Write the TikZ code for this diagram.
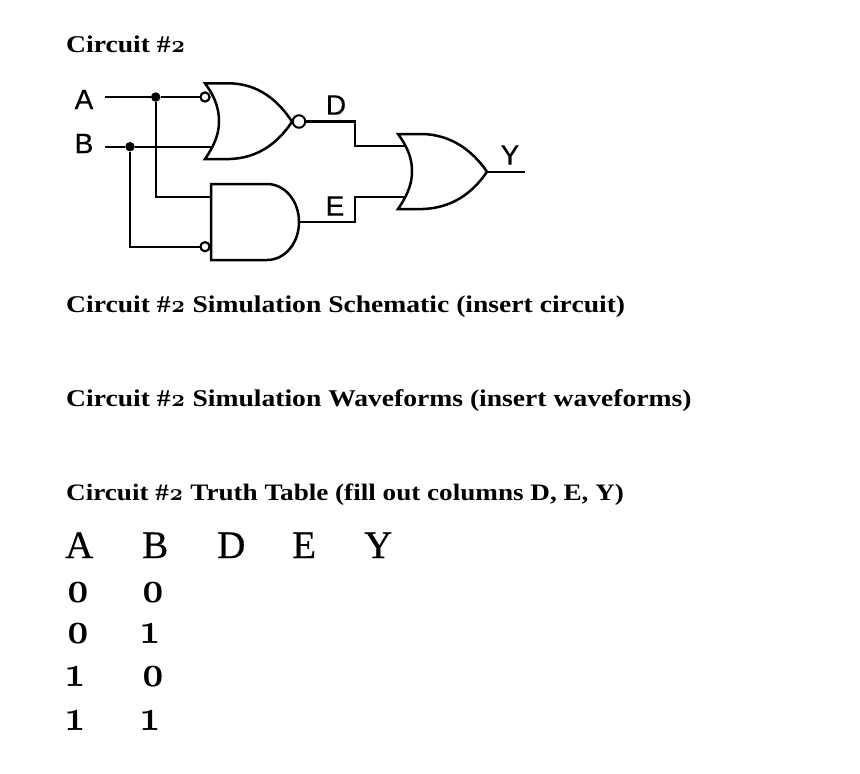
\documentclass[tikz,border=0pt]{standalone}
\usepackage{fontspec}
\setmainfont{Liberation Serif}
\newfontfamily\headfont[FakeStretch=1.15]{Liberation Serif}
\newfontfamily\colfont[FakeBold=0.5]{Liberation Serif}
\newfontfamily\digitfont[Numbers=OldStyle]{Latin Modern Roman}
\newfontfamily\tabledigitfont[Numbers=OldStyle,FakeStretch=0.84]{Latin Modern Roman}
\newfontfamily\gatefont[FakeBold=0.4]{Liberation Sans}
\newcommand{\ctwo}{{\digitfont\bfseries 2}}
\tikzset{
  x=1pt,y=-1pt,
  wire/.style={line width=2.2pt,black,line cap=butt,line join=miter},
  thin wire/.style={line width=1.8pt,black},
  gate outline/.style={line width=2.5pt,black,fill=white,line join=miter},
  junction/.style={circle,fill=black,inner sep=0pt,minimum size=9.5pt},
  bubble/.style={circle,draw=black,fill=white,line width=2pt,inner sep=0pt,minimum size=9pt},
  big bubble/.style={bubble,minimum size=12.5pt},
  gatelabel/.style={font=\gatefont\fontsize{28}{28}\selectfont,inner sep=0pt,anchor=center},
  heading/.style={font=\headfont\bfseries\fontsize{24}{26}\selectfont,inner sep=0pt,anchor=base west},
  heading narrow/.style={font=\headfont\bfseries\fontsize{23.6}{26}\selectfont,inner sep=0pt,anchor=base west},
  colhead/.style={font=\colfont\fontsize{39}{40}\selectfont,inner sep=0pt,anchor=base west},
  digit/.style={font=\tabledigitfont\bfseries\fontsize{44}{46}\selectfont,inner sep=0pt,anchor=base west},
}
\begin{document}
\begin{tikzpicture}
\useasboundingbox (0,0) rectangle (860,774);
\fill[white] (0,0) rectangle (860,774);

\node[heading] (h1) at (66,52) {Circuit \#\ctwo};
\node[heading] (h2) at (66,312) {Circuit \#\ctwo\ Simulation Schematic (insert circuit)};
\node[heading] (h3) at (66,406) {Circuit \#\ctwo\ Simulation Waveforms (insert waveforms)};
\node[heading narrow] (h4) at (66,500) {Circuit \#\ctwo\ Truth Table (fill out columns D, E, Y)};

% ports
\coordinate (Ain) at (105,97);
\coordinate (Bin) at (105,146.7);
\coordinate (Ataphi) at (155.7,197.3);
\coordinate (Btaphi) at (130,246.7);
\coordinate (norB) at (214,146.7);
\coordinate (andA) at (211,197.3);
\coordinate (andOut) at (299,221.7);
\coordinate (Eb1) at (355,221.7);
\coordinate (Eb2) at (355,197);
\coordinate (orE) at (407,197);
\coordinate (Db1) at (355,121.5);
\coordinate (Db2) at (355,146.3);
\coordinate (orD) at (407,146.3);
\coordinate (orOut) at (487,171.7);
\coordinate (Yend) at (525,171.7);

\node[junction] (ja) at (155.7,97) {};
\node[junction] (jb) at (130,146.7) {};
\node[bubble] (bna) at (205,97) {};
\node[bubble] (bnb) at (205,246.7) {};

% wires
\draw[wire] (Ain) -- (ja) -- (bna);
\draw[thin wire] (Bin) -- (jb) -- (norB);
\draw[thin wire] (ja) -- (Ataphi) -- (andA);
\draw[wire] (jb) -- (Btaphi) -- (bnb);

% NOR gate
\draw[gate outline]
  (205,83.3) -- (230,83.3)
  .. controls (258,84) and (278,100) .. (292,121.7)
  .. controls (278,143) and (258,158) .. (230,159)
  -- (205,159)
  .. controls (216,143) and (219,132) .. (219,121.5)
  .. controls (219,110) and (216,98) .. (205,83.3) -- cycle;
% NAND gate
\draw[gate outline]
  (211,184) -- (267,184)
  .. controls (285,184) and (299,201) .. (299,222)
  .. controls (299,243) and (285,260) .. (267,260)
  -- (211,260) -- cycle;
\node[bubble] at (bna) {};
\node[bubble] at (bnb) {};
\node[big bubble] (bnor) at (299,121.5) {};

% output wires
\draw[wire] (bnor) -- (Db1) -- (Db2) -- (orD);
\draw[wire] (andOut) -- (Eb1) -- (Eb2) -- (orE);
\draw[wire] (orOut) -- (Yend);

% OR gate
\draw[gate outline]
  (398,134) -- (423,134)
  .. controls (451,135) and (472,150) .. (487,171.7)
  .. controls (472,194) and (451,208) .. (423,209)
  -- (398,209)
  .. controls (409,193) and (412,182) .. (412,171.5)
  .. controls (412,160) and (409,149) .. (398,134) -- cycle;

\node[gatelabel] (la) at (84,99.5) {A};
\node[gatelabel] (lb) at (84,143.5) {B};
\node[gatelabel] (ld) at (336,105) {D};
\node[gatelabel] (le) at (335,206) {E};
\node[gatelabel] (ly) at (510,155) {Y};

% truth table
\node[colhead] (ca) at (65,558) {A};
\node[colhead] (cb) at (142,558) {B};
\node[colhead] (cd) at (217,558) {D};
\node[colhead] (ce) at (292,558) {E};
\node[colhead] (cy) at (364,558) {Y};
\node[digit] (r1a) at (66,602) {0};
\node[digit] (r1b) at (141,602) {0};
\node[digit] (r2a) at (66,643) {0};
\node[digit] (r2b) at (141,643) {1};
\node[digit] (r3a) at (66,686) {1};
\node[digit] (r3b) at (141,686) {0};
\node[digit] (r4a) at (66,730) {1};
\node[digit] (r4b) at (141,730) {1};
\end{tikzpicture}
\end{document}
